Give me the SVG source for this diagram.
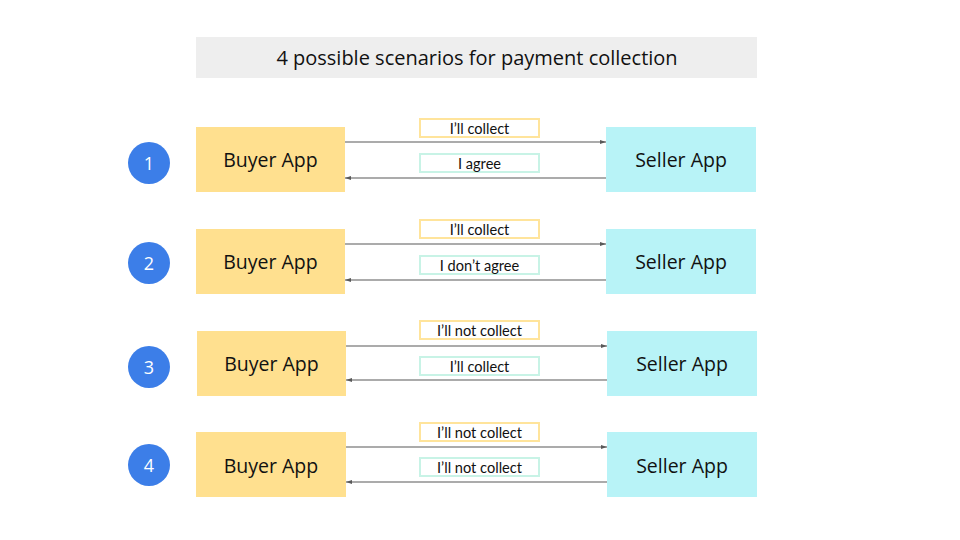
<svg xmlns="http://www.w3.org/2000/svg" width="960" height="540" viewBox="0 0 960 540">
<style>
.buyer{fill:#ffe08f}
.seller{fill:#b8f3f7}
.app{font-family:"Open Sans","Noto Sans",sans-serif;font-size:19.5px;fill:#111;text-anchor:middle;dominant-baseline:central}
.num{fill:#3c7ee8}
.numt{font-family:"Open Sans","Noto Sans",sans-serif;font-size:18px;fill:#fff;text-anchor:middle;dominant-baseline:central}
.lbly{fill:#fff;stroke:#ffe49b;stroke-width:2}
.lblg{fill:#fff;stroke:#c8f3e6;stroke-width:2}
.lt{font-family:Lato,"Liberation Sans",sans-serif;font-size:14.6px;fill:#111;text-anchor:middle;dominant-baseline:central}
.conn{stroke:#595959;stroke-width:1.2;fill:none;marker-end:url(#ah)}
</style>
<defs>
<marker id="ah" viewBox="0 0 10 10" refX="10" refY="5" markerWidth="5" markerHeight="5" orient="auto" markerUnits="strokeWidth">
<path d="M0,1.5 L10,5 L0,8.5 z" fill="#595959"/>
</marker>
</defs>
<rect width="960" height="540" fill="#fff"/>
<g id="title">
<rect x="196" y="37" width="561" height="41" fill="#eeeeee"/>
<text x="477" y="57" font-family="'Open Sans','Noto Sans',sans-serif" font-size="20" fill="#111" text-anchor="middle" dominant-baseline="central">4 possible scenarios for payment collection</text>
</g>
<g id="connectors">
<line class="conn" x1="345" y1="142" x2="606" y2="142"/>
<line class="conn" x1="606" y1="178" x2="345" y2="178"/>
<line class="conn" x1="345" y1="244" x2="606" y2="244"/>
<line class="conn" x1="606" y1="280" x2="345" y2="280"/>
<line class="conn" x1="346" y1="346" x2="607" y2="346"/>
<line class="conn" x1="607" y1="380" x2="346" y2="380"/>
<line class="conn" x1="346" y1="447" x2="607" y2="447"/>
<line class="conn" x1="607" y1="482" x2="346" y2="482"/>
</g>
<g id="labels">
<rect class="lbly" x="420" y="119" width="119" height="18"/><text class="lt" x="479.5" y="128">I’ll collect</text>
<rect class="lblg" x="420" y="154" width="119" height="18"/><text class="lt" x="479.5" y="163">I agree</text>
<rect class="lbly" x="420" y="220" width="119" height="18"/><text class="lt" x="479.5" y="229">I’ll collect</text>
<rect class="lblg" x="420" y="256" width="119" height="18"/><text class="lt" x="479.5" y="265">I don’t agree</text>
<rect class="lbly" x="420" y="321" width="119" height="18"/><text class="lt" x="479.5" y="330">I’ll not collect</text>
<rect class="lblg" x="420" y="357" width="119" height="18"/><text class="lt" x="479.5" y="366">I’ll collect</text>
<rect class="lbly" x="420" y="423" width="119" height="18"/><text class="lt" x="479.5" y="432">I’ll not collect</text>
<rect class="lblg" x="420" y="458" width="119" height="18"/><text class="lt" x="479.5" y="467">I’ll not collect</text>
</g>
<g id="n1"><circle class="num" cx="149" cy="163" r="21"/><text class="numt" x="149" y="163">1</text></g>
<g id="buyer1"><rect class="buyer" x="196" y="127" width="149" height="65"/><text class="app" x="270.5" y="159.5">Buyer App</text></g>
<g id="seller1"><rect class="seller" x="606" y="127" width="150" height="65"/><text class="app" x="681" y="159.5">Seller App</text></g>
<g id="n2"><circle class="num" cx="149" cy="263" r="21"/><text class="numt" x="149" y="263">2</text></g>
<g id="buyer2"><rect class="buyer" x="196" y="229" width="149" height="65"/><text class="app" x="270.5" y="261.5">Buyer App</text></g>
<g id="seller2"><rect class="seller" x="606" y="229" width="150" height="65"/><text class="app" x="681" y="261.5">Seller App</text></g>
<g id="n3"><circle class="num" cx="149" cy="367" r="21"/><text class="numt" x="149" y="367">3</text></g>
<g id="buyer3"><rect class="buyer" x="197" y="331" width="149" height="65"/><text class="app" x="271.5" y="363.5">Buyer App</text></g>
<g id="seller3"><rect class="seller" x="607" y="331" width="150" height="65"/><text class="app" x="682" y="363.5">Seller App</text></g>
<g id="n4"><circle class="num" cx="149" cy="465" r="21"/><text class="numt" x="149" y="465">4</text></g>
<g id="buyer4"><rect class="buyer" x="196" y="432" width="150" height="65"/><text class="app" x="271" y="465">Buyer App</text></g>
<g id="seller4"><rect class="seller" x="607" y="432" width="150" height="65"/><text class="app" x="682" y="465">Seller App</text></g>
</svg>
